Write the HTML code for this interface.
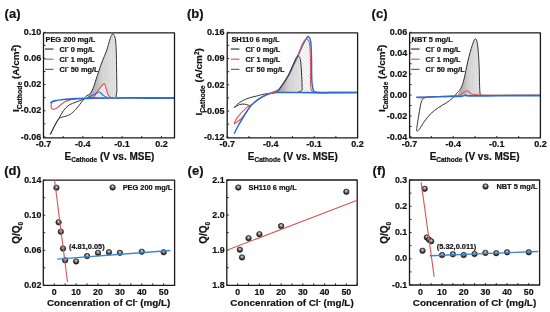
<!DOCTYPE html><html><head><meta charset="utf-8"><style>html,body{margin:0;padding:0;background:#fff;width:550px;height:312px;overflow:hidden}svg{display:block}</style></head><body>
<svg width="550" height="312" viewBox="0 0 550 312" font-family='"Liberation Sans", sans-serif' fill="#111" stroke-linejoin="round" style="will-change:transform"><style>text{stroke:#111;stroke-width:0.2px}</style>
<defs>
<linearGradient id="gA" x1="0" x2="1" y1="0" y2="0"><stop offset="0" stop-color="#9a9a9a"/><stop offset="0.5" stop-color="#d6d6d6"/><stop offset="1" stop-color="#e6e6e6"/></linearGradient>
<pattern id="vl" width="2" height="4" patternUnits="userSpaceOnUse"><rect width="2" height="4" fill="none"/><line x1="0.5" y1="0" x2="0.5" y2="4" stroke="#aaa" stroke-width="0.35"/></pattern>
<pattern id="hatch" width="2.3" height="3" patternUnits="userSpaceOnUse" patternTransform="rotate(-40)"><line x1="0" y1="0" x2="0" y2="3" stroke="#8a8a8a" stroke-width="0.55"/></pattern>
<radialGradient id="ball" cx="0.5" cy="0.4" r="0.6" fx="0.5" fy="0.35"><stop offset="0" stop-color="#e8e8e8"/><stop offset="0.3" stop-color="#9a9a9a"/><stop offset="0.7" stop-color="#333"/><stop offset="1" stop-color="#1a1a1a"/></radialGradient>
</defs>
<text x="4.60" y="18.00" font-size="13" text-anchor="start" font-weight="bold" >(a)</text>
<text x="186.90" y="18.00" font-size="13" text-anchor="start" font-weight="bold" >(b)</text>
<text x="371.60" y="18.00" font-size="13" text-anchor="start" font-weight="bold" >(c)</text>
<text x="4.20" y="175.10" font-size="13" text-anchor="start" font-weight="bold" >(d)</text>
<text x="187.60" y="175.10" font-size="13" text-anchor="start" font-weight="bold" >(e)</text>
<text x="372.60" y="175.10" font-size="13" text-anchor="start" font-weight="bold" >(f)</text>
<path d="M87.10,97.60 C87.60,96.95 88.98,95.57 90.10,93.70 C91.22,91.83 92.78,88.83 93.80,86.40 C94.82,83.97 95.40,81.53 96.20,79.10 C97.00,76.67 97.63,74.65 98.60,71.80 C99.57,68.95 100.68,65.47 102.00,62.00 C103.32,58.53 105.17,54.83 106.50,51.00 C107.83,47.17 109.12,41.67 110.00,39.00 C110.88,36.33 111.30,35.83 111.80,35.00 C112.30,34.17 112.58,33.92 113.00,34.00 C113.42,34.08 113.88,34.50 114.30,35.50 C114.72,36.50 115.18,37.58 115.50,40.00 C115.82,42.42 116.02,45.00 116.20,50.00 C116.38,55.00 116.48,63.33 116.60,70.00 C116.72,76.67 116.82,85.40 116.90,90.00 C116.98,94.60 117.07,96.33 117.10,97.60 Z" fill="url(#gA)"/>
<path d="M87.10,97.60 C87.60,96.95 88.98,95.57 90.10,93.70 C91.22,91.83 92.78,88.83 93.80,86.40 C94.82,83.97 95.40,81.53 96.20,79.10 C97.00,76.67 97.63,74.65 98.60,71.80 C99.57,68.95 100.68,65.47 102.00,62.00 C103.32,58.53 105.17,54.83 106.50,51.00 C107.83,47.17 109.12,41.67 110.00,39.00 C110.88,36.33 111.30,35.83 111.80,35.00 C112.30,34.17 112.58,33.92 113.00,34.00 C113.42,34.08 113.88,34.50 114.30,35.50 C114.72,36.50 115.18,37.58 115.50,40.00 C115.82,42.42 116.02,45.00 116.20,50.00 C116.38,55.00 116.48,63.33 116.60,70.00 C116.72,76.67 116.82,85.40 116.90,90.00 C116.98,94.60 117.07,96.33 117.10,97.60 Z" fill="url(#vl)" opacity="0.3"/>
<path d="M174.50,97.80 C167.08,97.78 139.57,97.73 130.00,97.70 C120.43,97.67 119.28,98.88 117.10,97.60 C114.92,96.32 116.98,94.60 116.90,90.00 C116.82,85.40 116.72,76.67 116.60,70.00 C116.48,63.33 116.38,55.00 116.20,50.00 C116.02,45.00 115.82,42.42 115.50,40.00 C115.18,37.58 114.72,36.50 114.30,35.50 C113.88,34.50 113.42,34.08 113.00,34.00 C112.58,33.92 112.30,34.17 111.80,35.00 C111.30,35.83 110.88,36.33 110.00,39.00 C109.12,41.67 107.83,47.17 106.50,51.00 C105.17,54.83 103.32,58.53 102.00,62.00 C100.68,65.47 99.57,68.95 98.60,71.80 C97.63,74.65 97.00,76.67 96.20,79.10 C95.40,81.53 94.82,83.97 93.80,86.40 C92.78,88.83 91.42,92.03 90.10,93.70 C88.78,95.37 87.33,94.98 85.90,96.40 C84.47,97.82 83.18,100.03 81.50,102.20 C79.82,104.37 77.72,107.35 75.80,109.40 C73.88,111.45 71.84,113.32 70.00,114.50 C68.16,115.68 66.58,115.83 64.75,116.50 C62.92,117.17 60.71,116.92 59.00,118.50 C57.29,120.08 55.95,123.33 54.50,126.00 C53.05,128.67 51.00,133.08 50.30,134.50" fill="none" stroke="#333333" stroke-width="1.0"/>
<path d="M50.30,134.50 C51.00,133.08 53.05,128.67 54.50,126.00 C55.95,123.33 57.53,121.03 59.00,118.50 C60.47,115.97 61.62,113.05 63.30,110.80 C64.98,108.55 66.98,106.45 69.10,105.00 C71.22,103.55 73.93,102.93 76.00,102.10 C78.07,101.27 79.62,100.67 81.50,100.00 C83.38,99.33 85.05,98.48 87.30,98.10 C89.55,97.72 93.72,97.77 95.00,97.70" fill="none" stroke="#333333" stroke-width="1.0"/>
<path d="M76.00,99.00 C75.00,99.13 71.88,99.33 70.00,99.80 C68.12,100.27 66.58,100.70 64.75,101.80 C62.92,102.90 60.81,105.15 59.00,106.40 C57.19,107.65 55.10,108.93 53.90,109.30 C52.70,109.67 52.28,109.20 51.80,108.60 C51.32,108.00 51.00,106.67 51.00,105.70 C51.00,104.73 51.67,103.28 51.80,102.80" fill="none" stroke="#dc5a5e" stroke-width="1.2"/>
<path d="M94.00,97.60 C94.47,96.77 95.65,94.38 96.80,92.60 C97.95,90.82 99.78,88.33 100.90,86.90 C102.02,85.47 102.90,84.52 103.50,84.00 C104.10,83.48 104.08,83.13 104.50,83.80 C104.92,84.47 105.40,86.20 106.00,88.00 C106.60,89.80 107.32,93.03 108.10,94.60 C108.88,96.17 109.88,96.90 110.70,97.40 C111.52,97.90 112.62,97.57 113.00,97.60 Z" fill="#f4f4f4"/>
<path d="M94.00,97.60 C94.47,96.77 95.65,94.38 96.80,92.60 C97.95,90.82 99.78,88.33 100.90,86.90 C102.02,85.47 102.90,84.52 103.50,84.00 C104.10,83.48 104.08,83.13 104.50,83.80 C104.92,84.47 105.40,86.20 106.00,88.00 C106.60,89.80 107.32,93.03 108.10,94.60 C108.88,96.17 109.88,96.90 110.70,97.40 C111.52,97.90 112.62,97.57 113.00,97.60 Z" fill="url(#hatch)"/>
<path d="M94.00,97.60 C94.47,96.77 95.65,94.38 96.80,92.60 C97.95,90.82 99.78,88.33 100.90,86.90 C102.02,85.47 102.90,84.52 103.50,84.00 C104.10,83.48 104.08,83.13 104.50,83.80 C104.92,84.47 105.40,86.20 106.00,88.00 C106.60,89.80 107.32,93.03 108.10,94.60 C108.88,96.17 109.88,96.90 110.70,97.40 C111.52,97.90 112.62,97.57 113.00,97.60" fill="none" stroke="#dc5a5e" stroke-width="1.1"/>
<path d="M87.00,97.70 C88.22,97.18 92.23,95.55 94.30,94.60 C96.37,93.65 97.95,91.92 99.40,92.00 C100.85,92.08 101.63,94.15 103.00,95.10 C104.37,96.05 106.83,97.27 107.60,97.70" fill="none" stroke="#2b6cd4" stroke-width="1.1"/>
<path d="M50.30,102.80 C51.03,102.48 52.53,101.45 54.70,100.90 C56.87,100.35 59.75,99.87 63.30,99.50 C66.85,99.13 70.72,98.93 76.00,98.70 C81.28,98.47 86.00,98.22 95.00,98.10 C104.00,97.98 116.75,98.00 130.00,98.00 C143.25,98.00 167.08,98.08 174.50,98.10" fill="none" stroke="#2b6cd4" stroke-width="1.7"/>
<rect x="43.50" y="32.80" width="131.00" height="105.10" fill="none" stroke="#1a1a1a" stroke-width="1.3"/>
<line x1="43.50" y1="137.90" x2="43.50" y2="135.90" stroke="#1a1a1a" stroke-width="0.9"/>
<line x1="82.80" y1="137.90" x2="82.80" y2="135.90" stroke="#1a1a1a" stroke-width="0.9"/>
<line x1="122.10" y1="137.90" x2="122.10" y2="135.90" stroke="#1a1a1a" stroke-width="0.9"/>
<line x1="161.40" y1="137.90" x2="161.40" y2="135.90" stroke="#1a1a1a" stroke-width="0.9"/>
<line x1="63.15" y1="137.90" x2="63.15" y2="135.90" stroke="#1a1a1a" stroke-width="0.9"/>
<line x1="102.45" y1="137.90" x2="102.45" y2="135.90" stroke="#1a1a1a" stroke-width="0.9"/>
<line x1="141.75" y1="137.90" x2="141.75" y2="135.90" stroke="#1a1a1a" stroke-width="0.9"/>
<line x1="43.50" y1="32.30" x2="45.50" y2="32.30" stroke="#1a1a1a" stroke-width="0.9"/>
<line x1="43.50" y1="58.45" x2="45.50" y2="58.45" stroke="#1a1a1a" stroke-width="0.9"/>
<line x1="43.50" y1="84.60" x2="45.50" y2="84.60" stroke="#1a1a1a" stroke-width="0.9"/>
<line x1="43.50" y1="110.75" x2="45.50" y2="110.75" stroke="#1a1a1a" stroke-width="0.9"/>
<line x1="43.50" y1="136.90" x2="45.50" y2="136.90" stroke="#1a1a1a" stroke-width="0.9"/>
<line x1="43.50" y1="45.38" x2="45.50" y2="45.38" stroke="#1a1a1a" stroke-width="0.9"/>
<line x1="43.50" y1="71.52" x2="45.50" y2="71.52" stroke="#1a1a1a" stroke-width="0.9"/>
<line x1="43.50" y1="97.67" x2="45.50" y2="97.67" stroke="#1a1a1a" stroke-width="0.9"/>
<line x1="43.50" y1="123.83" x2="45.50" y2="123.83" stroke="#1a1a1a" stroke-width="0.9"/>
<text x="41.30" y="35.04" font-size="9" text-anchor="end" font-weight="bold" >0.10</text>
<text x="41.30" y="61.19" font-size="9" text-anchor="end" font-weight="bold" >0.06</text>
<text x="41.30" y="87.34" font-size="9" text-anchor="end" font-weight="bold" >0.02</text>
<text x="41.30" y="113.49" font-size="9" text-anchor="end" font-weight="bold" >-0.02</text>
<text x="41.30" y="139.64" font-size="9" text-anchor="end" font-weight="bold" >-0.06</text>
<text x="43.50" y="147.04" font-size="9" text-anchor="middle" font-weight="bold" >-0.7</text>
<text x="82.80" y="147.04" font-size="9" text-anchor="middle" font-weight="bold" >-0.4</text>
<text x="122.10" y="147.04" font-size="9" text-anchor="middle" font-weight="bold" >-0.1</text>
<text x="161.40" y="147.04" font-size="9" text-anchor="middle" font-weight="bold" >0.2</text>
<text x="109.50" y="159.50" font-size="10" font-weight="bold" text-anchor="middle">E<tspan font-size="6.5" dy="2.6">Cathode</tspan><tspan dy="-2.6"> (V vs. MSE)</tspan></text>
<text transform="translate(19.30,78.30) rotate(-90)" font-size="9.9" font-weight="bold" text-anchor="middle">I<tspan font-size="6.9" dy="2.8">Cathode</tspan><tspan dy="-2.8"> (A/cm</tspan><tspan font-size="6.5" dy="-3.6">2</tspan><tspan dy="3.6">)</tspan></text>
<text x="45.50" y="41.60" font-size="7.4" text-anchor="start" font-weight="bold" >PEG 200 mg/L</text>
<line x1="45.00" y1="49.05" x2="53.50" y2="49.05" stroke="#333333" stroke-width="1.2"/>
<text x="59.50" y="51.75" font-size="7.4" font-weight="bold">Cl<tspan font-size="5" dy="-2.6">-</tspan><tspan dy="2.6"> 0 mg/L</tspan></text>
<line x1="45.00" y1="59.20" x2="53.50" y2="59.20" stroke="#dc5a5e" stroke-width="1.2"/>
<text x="59.50" y="61.90" font-size="7.4" font-weight="bold">Cl<tspan font-size="5" dy="-2.6">-</tspan><tspan dy="2.6"> 1 mg/L</tspan></text>
<line x1="45.00" y1="69.35" x2="53.50" y2="69.35" stroke="#2b6cd4" stroke-width="1.2"/>
<text x="59.50" y="72.05" font-size="7.4" font-weight="bold">Cl<tspan font-size="5" dy="-2.6">-</tspan><tspan dy="2.6"> 50 mg/L</tspan></text>
<path d="M276.40,92.60 C277.00,91.88 278.07,91.03 280.00,88.30 C281.93,85.57 285.75,80.25 288.00,76.20 C290.25,72.15 292.13,67.07 293.50,64.00 C294.87,60.93 295.48,59.13 296.20,57.80 C296.92,56.47 297.25,56.10 297.80,56.00 C298.35,55.90 299.03,56.37 299.50,57.20 C299.97,58.03 300.28,58.87 300.60,61.00 C300.92,63.13 301.18,66.83 301.40,70.00 C301.62,73.17 301.77,76.72 301.90,80.00 C302.03,83.28 302.08,87.60 302.20,89.70 C302.32,91.80 302.53,92.12 302.60,92.60 Z" fill="url(#gA)"/>
<path d="M276.40,92.60 C277.00,91.88 278.07,91.03 280.00,88.30 C281.93,85.57 285.75,80.25 288.00,76.20 C290.25,72.15 292.13,67.07 293.50,64.00 C294.87,60.93 295.48,59.13 296.20,57.80 C296.92,56.47 297.25,56.10 297.80,56.00 C298.35,55.90 299.03,56.37 299.50,57.20 C299.97,58.03 300.28,58.87 300.60,61.00 C300.92,63.13 301.18,66.83 301.40,70.00 C301.62,73.17 301.77,76.72 301.90,80.00 C302.03,83.28 302.08,87.60 302.20,89.70 C302.32,91.80 302.53,92.12 302.60,92.60 Z" fill="url(#vl)" opacity="0.3"/>
<path d="M297.80,56.00 C298.38,54.40 300.20,48.97 301.30,46.40 C302.40,43.83 303.55,41.80 304.40,40.60 C305.25,39.40 305.70,39.22 306.40,39.20 C307.10,39.18 308.05,39.53 308.60,40.50 C309.15,41.47 309.40,41.28 309.70,45.00 C310.00,48.72 310.27,55.40 310.40,62.80 C310.53,70.20 310.23,84.57 310.50,89.40 C310.77,94.23 310.97,91.27 312.00,91.80 C313.03,92.33 315.92,92.47 316.70,92.60 L302.6,92.6 L302.2,89.7 L301.9,80 L301.4,70 L300.6,61 L299.5,57.2 L297.8,56Z" fill="url(#hatch)"/>
<path d="M276.40,92.40 C275.00,92.70 270.40,93.43 268.00,94.20 C265.60,94.97 263.87,95.98 262.00,97.00 C260.13,98.02 258.22,99.22 256.80,100.30 C255.38,101.38 254.45,102.65 253.50,103.50 C252.55,104.35 251.98,105.13 251.10,105.40 C250.22,105.67 249.33,105.32 248.20,105.10 C247.07,104.88 245.75,104.18 244.30,104.10 C242.85,104.02 241.18,104.03 239.50,104.60 C237.82,105.17 234.57,107.58 234.25,107.50 C233.93,107.42 236.24,105.22 237.60,104.10 C238.96,102.98 240.47,101.83 242.40,100.80 C244.33,99.77 246.80,98.70 249.20,97.90 C251.60,97.10 254.17,96.65 256.80,96.00 C259.43,95.35 261.73,94.57 265.00,94.00 C268.27,93.43 274.50,92.83 276.40,92.60" fill="none" stroke="#333333" stroke-width="1.0"/>
<path d="M276.50,91.00 C275.25,91.43 271.42,92.58 269.00,93.60 C266.58,94.62 264.03,95.93 262.00,97.10 C259.97,98.27 258.70,99.12 256.80,100.60 C254.90,102.08 252.43,103.97 250.60,106.00 C248.77,108.03 247.40,110.67 245.80,112.80 C244.20,114.93 242.47,117.30 241.00,118.80 C239.53,120.30 238.12,120.97 237.00,121.80 C235.88,122.63 234.32,124.33 234.25,123.80 C234.18,123.27 235.41,120.47 236.60,118.60 C237.79,116.73 239.73,114.43 241.40,112.60 C243.07,110.77 245.07,108.80 246.60,107.60 C248.13,106.40 249.03,106.47 250.60,105.40 C252.17,104.33 255.10,101.90 256.00,101.20" fill="none" stroke="#dc5a5e" stroke-width="1.1"/>
<path d="M357.60,92.60 C353.00,92.60 336.60,92.62 330.00,92.60 C323.40,92.58 320.75,92.85 318.00,92.50 C315.25,92.15 314.53,92.58 313.50,90.50 C312.47,88.42 312.13,85.08 311.80,80.00 C311.47,74.92 311.67,66.33 311.50,60.00 C311.33,53.67 311.28,45.87 310.80,42.00 C310.32,38.13 309.33,37.40 308.60,36.80 C307.87,36.20 307.48,36.80 306.40,38.40 C305.32,40.00 303.60,43.30 302.10,46.40 C300.60,49.50 298.75,54.07 297.40,57.00 C296.05,59.93 295.57,60.80 294.00,64.00 C292.43,67.20 290.33,72.15 288.00,76.20 C285.67,80.25 281.92,85.80 280.00,88.30 C278.08,90.80 278.33,90.27 276.50,91.20 C274.67,92.13 271.42,92.90 269.00,93.90 C266.58,94.90 264.03,96.13 262.00,97.20 C259.97,98.27 258.47,99.07 256.80,100.30 C255.13,101.53 253.43,103.08 252.00,104.60 C250.57,106.12 249.63,107.32 248.20,109.40 C246.77,111.48 245.00,114.50 243.40,117.10 C241.80,119.70 240.13,122.25 238.60,125.00 C237.07,127.75 234.93,132.17 234.20,133.60" fill="none" stroke="#2b6cd4" stroke-width="1.5"/>
<path d="M318.00,92.60 C317.78,92.58 317.78,92.85 316.70,92.50 C315.62,92.15 312.53,92.58 311.50,90.50 C310.47,88.42 310.67,84.62 310.50,80.00 C310.33,75.38 310.63,68.63 310.50,62.80 C310.37,56.97 310.08,48.77 309.70,45.00 C309.32,41.23 308.75,41.17 308.20,40.20 C307.65,39.23 307.03,39.13 306.40,39.20 C305.77,39.27 305.25,39.40 304.40,40.60 C303.55,41.80 302.33,44.07 301.30,46.40 C300.27,48.73 299.50,51.67 298.20,54.60 C296.90,57.53 295.20,60.40 293.50,64.00 C291.80,67.60 290.25,72.15 288.00,76.20 C285.75,80.25 281.92,85.83 280.00,88.30 C278.08,90.77 278.33,90.12 276.50,91.00 C274.67,91.88 270.25,93.17 269.00,93.60" fill="none" stroke="#dc5a5e" stroke-width="1.1"/>
<path d="M357.60,92.60 C348.43,92.60 311.83,93.08 302.60,92.60 C293.37,92.12 302.32,91.80 302.20,89.70 C302.08,87.60 302.03,83.28 301.90,80.00 C301.77,76.72 301.62,73.17 301.40,70.00 C301.18,66.83 300.92,63.13 300.60,61.00 C300.28,58.87 299.97,58.03 299.50,57.20 C299.03,56.37 298.35,55.90 297.80,56.00 C297.25,56.10 296.92,56.47 296.20,57.80 C295.48,59.13 294.87,60.93 293.50,64.00 C292.13,67.07 290.25,72.15 288.00,76.20 C285.75,80.25 281.93,85.60 280.00,88.30 C278.07,91.00 277.00,91.72 276.40,92.40" fill="none" stroke="#333333" stroke-width="1.0"/>
<line x1="276" y1="92.6" x2="357.6" y2="92.6" stroke="#2b6cd4" stroke-width="1.5"/>
<rect x="227.20" y="32.80" width="130.40" height="105.10" fill="none" stroke="#1a1a1a" stroke-width="1.3"/>
<line x1="227.20" y1="137.90" x2="227.20" y2="135.90" stroke="#1a1a1a" stroke-width="0.9"/>
<line x1="270.67" y1="137.90" x2="270.67" y2="135.90" stroke="#1a1a1a" stroke-width="0.9"/>
<line x1="314.13" y1="137.90" x2="314.13" y2="135.90" stroke="#1a1a1a" stroke-width="0.9"/>
<line x1="357.60" y1="137.90" x2="357.60" y2="135.90" stroke="#1a1a1a" stroke-width="0.9"/>
<line x1="248.93" y1="137.90" x2="248.93" y2="135.90" stroke="#1a1a1a" stroke-width="0.9"/>
<line x1="292.40" y1="137.90" x2="292.40" y2="135.90" stroke="#1a1a1a" stroke-width="0.9"/>
<line x1="335.87" y1="137.90" x2="335.87" y2="135.90" stroke="#1a1a1a" stroke-width="0.9"/>
<line x1="227.20" y1="32.30" x2="229.20" y2="32.30" stroke="#1a1a1a" stroke-width="0.9"/>
<line x1="227.20" y1="58.55" x2="229.20" y2="58.55" stroke="#1a1a1a" stroke-width="0.9"/>
<line x1="227.20" y1="84.80" x2="229.20" y2="84.80" stroke="#1a1a1a" stroke-width="0.9"/>
<line x1="227.20" y1="111.05" x2="229.20" y2="111.05" stroke="#1a1a1a" stroke-width="0.9"/>
<line x1="227.20" y1="137.30" x2="229.20" y2="137.30" stroke="#1a1a1a" stroke-width="0.9"/>
<line x1="227.20" y1="45.42" x2="229.20" y2="45.42" stroke="#1a1a1a" stroke-width="0.9"/>
<line x1="227.20" y1="71.67" x2="229.20" y2="71.67" stroke="#1a1a1a" stroke-width="0.9"/>
<line x1="227.20" y1="97.92" x2="229.20" y2="97.92" stroke="#1a1a1a" stroke-width="0.9"/>
<line x1="227.20" y1="124.17" x2="229.20" y2="124.17" stroke="#1a1a1a" stroke-width="0.9"/>
<text x="224.60" y="35.04" font-size="9" text-anchor="end" font-weight="bold" >0.16</text>
<text x="224.60" y="61.29" font-size="9" text-anchor="end" font-weight="bold" >0.09</text>
<text x="224.60" y="87.54" font-size="9" text-anchor="end" font-weight="bold" >0.02</text>
<text x="224.60" y="113.79" font-size="9" text-anchor="end" font-weight="bold" >-0.05</text>
<text x="224.60" y="140.04" font-size="9" text-anchor="end" font-weight="bold" >-0.12</text>
<text x="227.20" y="147.04" font-size="9" text-anchor="middle" font-weight="bold" >-0.7</text>
<text x="270.67" y="147.04" font-size="9" text-anchor="middle" font-weight="bold" >-0.4</text>
<text x="314.13" y="147.04" font-size="9" text-anchor="middle" font-weight="bold" >-0.1</text>
<text x="357.60" y="147.04" font-size="9" text-anchor="middle" font-weight="bold" >0.2</text>
<text x="292.80" y="159.50" font-size="10" font-weight="bold" text-anchor="middle">E<tspan font-size="6.5" dy="2.6">Cathode</tspan><tspan dy="-2.6"> (V vs. MSE)</tspan></text>
<text transform="translate(202.10,81.90) rotate(-90)" font-size="9.9" font-weight="bold" text-anchor="middle">I<tspan font-size="6.9" dy="2.8">Cathode</tspan><tspan dy="-2.8"> (A/cm</tspan><tspan font-size="6.5" dy="-3.6">2</tspan><tspan dy="3.6">)</tspan></text>
<text x="231.40" y="41.60" font-size="7.4" text-anchor="start" font-weight="bold" >SH110 6 mg/L</text>
<line x1="230.90" y1="49.05" x2="239.40" y2="49.05" stroke="#333333" stroke-width="1.2"/>
<text x="245.40" y="51.75" font-size="7.4" font-weight="bold">Cl<tspan font-size="5" dy="-2.6">-</tspan><tspan dy="2.6"> 0 mg/L</tspan></text>
<line x1="230.90" y1="59.20" x2="239.40" y2="59.20" stroke="#dc5a5e" stroke-width="1.2"/>
<text x="245.40" y="61.90" font-size="7.4" font-weight="bold">Cl<tspan font-size="5" dy="-2.6">-</tspan><tspan dy="2.6"> 1 mg/L</tspan></text>
<line x1="230.90" y1="69.35" x2="239.40" y2="69.35" stroke="#2b6cd4" stroke-width="1.2"/>
<text x="245.40" y="72.05" font-size="7.4" font-weight="bold">Cl<tspan font-size="5" dy="-2.6">-</tspan><tspan dy="2.6"> 50 mg/L</tspan></text>
<path d="M457.00,95.50 C457.33,95.00 457.92,94.87 459.00,92.50 C460.08,90.13 462.02,86.53 463.50,81.30 C464.98,76.07 466.45,67.07 467.90,61.10 C469.35,55.13 470.97,49.22 472.20,45.50 C473.43,41.78 474.40,38.88 475.30,38.80 C476.20,38.72 476.97,40.53 477.60,45.00 C478.23,49.47 478.73,58.05 479.10,65.60 C479.47,73.15 479.42,85.32 479.80,90.30 C480.18,95.28 481.13,94.63 481.40,95.50 Z" fill="url(#gA)"/>
<path d="M457.00,95.50 C457.33,95.00 457.92,94.87 459.00,92.50 C460.08,90.13 462.02,86.53 463.50,81.30 C464.98,76.07 466.45,67.07 467.90,61.10 C469.35,55.13 470.97,49.22 472.20,45.50 C473.43,41.78 474.40,38.88 475.30,38.80 C476.20,38.72 476.97,40.53 477.60,45.00 C478.23,49.47 478.73,58.05 479.10,65.60 C479.47,73.15 479.42,85.32 479.80,90.30 C480.18,95.28 481.13,94.63 481.40,95.50 Z" fill="url(#vl)" opacity="0.3"/>
<path d="M540.40,95.20 C532.00,95.22 499.83,95.33 490.00,95.30 C480.17,95.27 483.10,95.83 481.40,95.00 C479.70,94.17 480.18,95.20 479.80,90.30 C479.42,85.40 479.47,73.15 479.10,65.60 C478.73,58.05 478.23,49.47 477.60,45.00 C476.97,40.53 476.20,38.72 475.30,38.80 C474.40,38.88 473.43,41.78 472.20,45.50 C470.97,49.22 469.35,55.13 467.90,61.10 C466.45,67.07 464.82,76.55 463.50,81.30 C462.18,86.05 461.05,87.70 460.00,89.60 C458.95,91.50 458.45,91.27 457.20,92.70 C455.95,94.13 454.33,96.50 452.50,98.20 C450.67,99.90 448.57,101.32 446.20,102.90 C443.83,104.48 440.93,105.85 438.30,107.70 C435.67,109.55 432.75,111.65 430.40,114.00 C428.05,116.35 426.03,119.27 424.20,121.80 C422.37,124.33 420.53,127.63 419.40,129.20 C418.27,130.77 417.87,131.07 417.40,131.20 C416.93,131.33 416.65,130.92 416.60,130.00 C416.55,129.08 416.77,127.98 417.10,125.70 C417.43,123.42 418.08,119.43 418.60,116.30 C419.12,113.17 419.67,109.52 420.20,106.90 C420.73,104.28 421.02,102.13 421.80,100.60 C422.58,99.07 423.20,98.33 424.90,97.70 C426.60,97.07 428.65,97.03 432.00,96.80 C435.35,96.57 442.83,96.38 445.00,96.30" fill="none" stroke="#333333" stroke-width="1.0"/>
<path d="M416.30,97.40 C416.92,97.50 418.72,97.93 420.00,98.00 C421.28,98.07 422.33,98.00 424.00,97.80 C425.67,97.60 426.50,97.07 430.00,96.80 C433.50,96.53 440.17,96.47 445.00,96.20 C449.83,95.93 456.00,95.73 459.00,95.20 C462.00,94.67 461.70,93.75 463.00,93.00 C464.30,92.25 465.63,90.78 466.80,90.70 C467.97,90.62 469.07,91.92 470.00,92.50 C470.93,93.08 469.07,93.75 472.40,94.20 C475.73,94.65 478.67,95.03 490.00,95.20 C501.33,95.37 532.00,95.20 540.40,95.20" fill="none" stroke="#dc5a5e" stroke-width="1.1"/>
<path d="M416.30,97.30 C418.58,97.25 424.38,97.13 430.00,97.00 C435.62,96.87 444.67,96.65 450.00,96.50 C455.33,96.35 459.38,96.35 462.00,96.10 C464.62,95.85 464.53,95.03 465.70,95.00 C466.87,94.97 463.28,95.78 469.00,95.90 C474.72,96.02 488.10,95.75 500.00,95.70 C511.90,95.65 533.67,95.62 540.40,95.60" fill="none" stroke="#2b6cd4" stroke-width="1.6"/>
<rect x="409.60" y="32.80" width="130.80" height="105.10" fill="none" stroke="#1a1a1a" stroke-width="1.3"/>
<line x1="409.60" y1="137.90" x2="409.60" y2="135.90" stroke="#1a1a1a" stroke-width="0.9"/>
<line x1="453.20" y1="137.90" x2="453.20" y2="135.90" stroke="#1a1a1a" stroke-width="0.9"/>
<line x1="496.80" y1="137.90" x2="496.80" y2="135.90" stroke="#1a1a1a" stroke-width="0.9"/>
<line x1="540.40" y1="137.90" x2="540.40" y2="135.90" stroke="#1a1a1a" stroke-width="0.9"/>
<line x1="431.40" y1="137.90" x2="431.40" y2="135.90" stroke="#1a1a1a" stroke-width="0.9"/>
<line x1="475.00" y1="137.90" x2="475.00" y2="135.90" stroke="#1a1a1a" stroke-width="0.9"/>
<line x1="518.60" y1="137.90" x2="518.60" y2="135.90" stroke="#1a1a1a" stroke-width="0.9"/>
<line x1="409.60" y1="32.30" x2="411.60" y2="32.30" stroke="#1a1a1a" stroke-width="0.9"/>
<line x1="409.60" y1="53.22" x2="411.60" y2="53.22" stroke="#1a1a1a" stroke-width="0.9"/>
<line x1="409.60" y1="74.14" x2="411.60" y2="74.14" stroke="#1a1a1a" stroke-width="0.9"/>
<line x1="409.60" y1="95.06" x2="411.60" y2="95.06" stroke="#1a1a1a" stroke-width="0.9"/>
<line x1="409.60" y1="115.98" x2="411.60" y2="115.98" stroke="#1a1a1a" stroke-width="0.9"/>
<line x1="409.60" y1="136.90" x2="411.60" y2="136.90" stroke="#1a1a1a" stroke-width="0.9"/>
<line x1="409.60" y1="42.76" x2="411.60" y2="42.76" stroke="#1a1a1a" stroke-width="0.9"/>
<line x1="409.60" y1="63.68" x2="411.60" y2="63.68" stroke="#1a1a1a" stroke-width="0.9"/>
<line x1="409.60" y1="84.60" x2="411.60" y2="84.60" stroke="#1a1a1a" stroke-width="0.9"/>
<line x1="409.60" y1="105.52" x2="411.60" y2="105.52" stroke="#1a1a1a" stroke-width="0.9"/>
<line x1="409.60" y1="126.44" x2="411.60" y2="126.44" stroke="#1a1a1a" stroke-width="0.9"/>
<text x="407.20" y="35.04" font-size="9" text-anchor="end" font-weight="bold" >0.06</text>
<text x="407.20" y="55.96" font-size="9" text-anchor="end" font-weight="bold" >0.04</text>
<text x="407.20" y="76.88" font-size="9" text-anchor="end" font-weight="bold" >0.02</text>
<text x="407.20" y="97.80" font-size="9" text-anchor="end" font-weight="bold" >0.00</text>
<text x="407.20" y="118.72" font-size="9" text-anchor="end" font-weight="bold" >-0.02</text>
<text x="407.20" y="139.64" font-size="9" text-anchor="end" font-weight="bold" >-0.04</text>
<text x="409.60" y="147.04" font-size="9" text-anchor="middle" font-weight="bold" >-0.7</text>
<text x="453.20" y="147.04" font-size="9" text-anchor="middle" font-weight="bold" >-0.4</text>
<text x="496.80" y="147.04" font-size="9" text-anchor="middle" font-weight="bold" >-0.1</text>
<text x="540.40" y="147.04" font-size="9" text-anchor="middle" font-weight="bold" >0.2</text>
<text x="474.60" y="159.50" font-size="10" font-weight="bold" text-anchor="middle">E<tspan font-size="6.5" dy="2.6">Cathode</tspan><tspan dy="-2.6"> (V vs. MSE)</tspan></text>
<text transform="translate(385.40,78.30) rotate(-90)" font-size="9.9" font-weight="bold" text-anchor="middle">I<tspan font-size="6.9" dy="2.8">Cathode</tspan><tspan dy="-2.8"> (A/cm</tspan><tspan font-size="6.5" dy="-3.6">2</tspan><tspan dy="3.6">)</tspan></text>
<text x="411.60" y="41.60" font-size="7.4" text-anchor="start" font-weight="bold" >NBT 5 mg/L</text>
<line x1="411.10" y1="49.05" x2="419.60" y2="49.05" stroke="#333333" stroke-width="1.2"/>
<text x="425.60" y="51.75" font-size="7.4" font-weight="bold">Cl<tspan font-size="5" dy="-2.6">-</tspan><tspan dy="2.6"> 0 mg/L</tspan></text>
<line x1="411.10" y1="59.20" x2="419.60" y2="59.20" stroke="#dc5a5e" stroke-width="1.2"/>
<text x="425.60" y="61.90" font-size="7.4" font-weight="bold">Cl<tspan font-size="5" dy="-2.6">-</tspan><tspan dy="2.6"> 1 mg/L</tspan></text>
<line x1="411.10" y1="69.35" x2="419.60" y2="69.35" stroke="#2b6cd4" stroke-width="1.2"/>
<text x="425.60" y="72.05" font-size="7.4" font-weight="bold">Cl<tspan font-size="5" dy="-2.6">-</tspan><tspan dy="2.6"> 50 mg/L</tspan></text>
<rect x="43.30" y="180.20" width="131.30" height="105.10" fill="none" stroke="#1a1a1a" stroke-width="1.3"/>
<line x1="54.24" y1="285.30" x2="54.24" y2="283.30" stroke="#1a1a1a" stroke-width="0.9"/>
<line x1="76.12" y1="285.30" x2="76.12" y2="283.30" stroke="#1a1a1a" stroke-width="0.9"/>
<line x1="98.01" y1="285.30" x2="98.01" y2="283.30" stroke="#1a1a1a" stroke-width="0.9"/>
<line x1="119.89" y1="285.30" x2="119.89" y2="283.30" stroke="#1a1a1a" stroke-width="0.9"/>
<line x1="141.78" y1="285.30" x2="141.78" y2="283.30" stroke="#1a1a1a" stroke-width="0.9"/>
<line x1="163.66" y1="285.30" x2="163.66" y2="283.30" stroke="#1a1a1a" stroke-width="0.9"/>
<line x1="65.18" y1="285.30" x2="65.18" y2="283.30" stroke="#1a1a1a" stroke-width="0.9"/>
<line x1="87.07" y1="285.30" x2="87.07" y2="283.30" stroke="#1a1a1a" stroke-width="0.9"/>
<line x1="108.95" y1="285.30" x2="108.95" y2="283.30" stroke="#1a1a1a" stroke-width="0.9"/>
<line x1="130.83" y1="285.30" x2="130.83" y2="283.30" stroke="#1a1a1a" stroke-width="0.9"/>
<line x1="152.72" y1="285.30" x2="152.72" y2="283.30" stroke="#1a1a1a" stroke-width="0.9"/>
<line x1="174.60" y1="285.30" x2="174.60" y2="283.30" stroke="#1a1a1a" stroke-width="0.9"/>
<line x1="43.30" y1="180.20" x2="45.30" y2="180.20" stroke="#1a1a1a" stroke-width="0.9"/>
<line x1="43.30" y1="215.23" x2="45.30" y2="215.23" stroke="#1a1a1a" stroke-width="0.9"/>
<line x1="43.30" y1="250.27" x2="45.30" y2="250.27" stroke="#1a1a1a" stroke-width="0.9"/>
<line x1="43.30" y1="285.30" x2="45.30" y2="285.30" stroke="#1a1a1a" stroke-width="0.9"/>
<line x1="43.30" y1="197.72" x2="45.30" y2="197.72" stroke="#1a1a1a" stroke-width="0.9"/>
<line x1="43.30" y1="232.75" x2="45.30" y2="232.75" stroke="#1a1a1a" stroke-width="0.9"/>
<line x1="43.30" y1="267.78" x2="45.30" y2="267.78" stroke="#1a1a1a" stroke-width="0.9"/>
<circle cx="56.43" cy="187.70" r="2.75" fill="url(#ball)" stroke="#1a1a1a" stroke-width="0.6"/>
<circle cx="58.62" cy="222.30" r="2.75" fill="url(#ball)" stroke="#1a1a1a" stroke-width="0.6"/>
<circle cx="60.81" cy="231.70" r="2.75" fill="url(#ball)" stroke="#1a1a1a" stroke-width="0.6"/>
<circle cx="62.99" cy="248.50" r="2.75" fill="url(#ball)" stroke="#1a1a1a" stroke-width="0.6"/>
<circle cx="65.18" cy="260.30" r="2.75" fill="url(#ball)" stroke="#1a1a1a" stroke-width="0.6"/>
<circle cx="76.12" cy="261.40" r="2.75" fill="url(#ball)" stroke="#1a1a1a" stroke-width="0.6"/>
<circle cx="87.07" cy="256.10" r="2.75" fill="url(#ball)" stroke="#1a1a1a" stroke-width="0.6"/>
<circle cx="98.01" cy="252.90" r="2.75" fill="url(#ball)" stroke="#1a1a1a" stroke-width="0.6"/>
<circle cx="108.95" cy="252.20" r="2.75" fill="url(#ball)" stroke="#1a1a1a" stroke-width="0.6"/>
<circle cx="119.89" cy="252.80" r="2.75" fill="url(#ball)" stroke="#1a1a1a" stroke-width="0.6"/>
<circle cx="141.78" cy="251.70" r="2.75" fill="url(#ball)" stroke="#1a1a1a" stroke-width="0.6"/>
<circle cx="163.66" cy="252.20" r="2.75" fill="url(#ball)" stroke="#1a1a1a" stroke-width="0.6"/>
<line x1="54.6" y1="180.2" x2="67.5" y2="282" stroke="#d65454" stroke-width="1.1"/>
<line x1="57.2" y1="259.1" x2="170.3" y2="250.5" stroke="#3f84cc" stroke-width="1.4"/>
<text x="86.80" y="248.80" font-size="7.4" text-anchor="middle" font-weight="bold" >(4.81,0.05)</text>
<circle cx="112.60" cy="187.40" r="2.75" fill="url(#ball)" stroke="#1a1a1a" stroke-width="0.6"/>
<text x="122.70" y="190.10" font-size="7.4" text-anchor="start" font-weight="bold" >PEG 200 mg/L</text>
<text x="41.30" y="182.87" font-size="8.8" text-anchor="end" font-weight="bold" >0.14</text>
<text x="41.30" y="217.90" font-size="8.8" text-anchor="end" font-weight="bold" >0.10</text>
<text x="41.30" y="252.93" font-size="8.8" text-anchor="end" font-weight="bold" >0.06</text>
<text x="41.30" y="287.97" font-size="8.8" text-anchor="end" font-weight="bold" >0.02</text>
<text x="54.24" y="295.17" font-size="8.8" text-anchor="middle" font-weight="bold" >0</text>
<text x="76.12" y="295.17" font-size="8.8" text-anchor="middle" font-weight="bold" >10</text>
<text x="98.01" y="295.17" font-size="8.8" text-anchor="middle" font-weight="bold" >20</text>
<text x="119.89" y="295.17" font-size="8.8" text-anchor="middle" font-weight="bold" >30</text>
<text x="141.78" y="295.17" font-size="8.8" text-anchor="middle" font-weight="bold" >40</text>
<text x="163.66" y="295.17" font-size="8.8" text-anchor="middle" font-weight="bold" >50</text>
<text x="108.70" y="306.20" font-size="9.9" font-weight="bold" text-anchor="middle">Concenration of Cl<tspan font-size="6.5" dy="-3.6">-</tspan><tspan dy="3.6"> (mg/L)</tspan></text>
<text transform="translate(19.60,232.80) rotate(-90)" font-size="10" font-weight="bold" text-anchor="middle">Q/Q<tspan font-size="6.5" dy="3.2">0</tspan></text>
<rect x="226.80" y="180.00" width="130.40" height="105.30" fill="none" stroke="#1a1a1a" stroke-width="1.3"/>
<line x1="237.67" y1="285.30" x2="237.67" y2="283.30" stroke="#1a1a1a" stroke-width="0.9"/>
<line x1="259.40" y1="285.30" x2="259.40" y2="283.30" stroke="#1a1a1a" stroke-width="0.9"/>
<line x1="281.13" y1="285.30" x2="281.13" y2="283.30" stroke="#1a1a1a" stroke-width="0.9"/>
<line x1="302.87" y1="285.30" x2="302.87" y2="283.30" stroke="#1a1a1a" stroke-width="0.9"/>
<line x1="324.60" y1="285.30" x2="324.60" y2="283.30" stroke="#1a1a1a" stroke-width="0.9"/>
<line x1="346.33" y1="285.30" x2="346.33" y2="283.30" stroke="#1a1a1a" stroke-width="0.9"/>
<line x1="248.53" y1="285.30" x2="248.53" y2="283.30" stroke="#1a1a1a" stroke-width="0.9"/>
<line x1="270.27" y1="285.30" x2="270.27" y2="283.30" stroke="#1a1a1a" stroke-width="0.9"/>
<line x1="292.00" y1="285.30" x2="292.00" y2="283.30" stroke="#1a1a1a" stroke-width="0.9"/>
<line x1="313.73" y1="285.30" x2="313.73" y2="283.30" stroke="#1a1a1a" stroke-width="0.9"/>
<line x1="335.47" y1="285.30" x2="335.47" y2="283.30" stroke="#1a1a1a" stroke-width="0.9"/>
<line x1="357.20" y1="285.30" x2="357.20" y2="283.30" stroke="#1a1a1a" stroke-width="0.9"/>
<line x1="226.80" y1="180.00" x2="228.80" y2="180.00" stroke="#1a1a1a" stroke-width="0.9"/>
<line x1="226.80" y1="215.10" x2="228.80" y2="215.10" stroke="#1a1a1a" stroke-width="0.9"/>
<line x1="226.80" y1="250.20" x2="228.80" y2="250.20" stroke="#1a1a1a" stroke-width="0.9"/>
<line x1="226.80" y1="285.30" x2="228.80" y2="285.30" stroke="#1a1a1a" stroke-width="0.9"/>
<line x1="226.80" y1="197.55" x2="228.80" y2="197.55" stroke="#1a1a1a" stroke-width="0.9"/>
<line x1="226.80" y1="232.65" x2="228.80" y2="232.65" stroke="#1a1a1a" stroke-width="0.9"/>
<line x1="226.80" y1="267.75" x2="228.80" y2="267.75" stroke="#1a1a1a" stroke-width="0.9"/>
<circle cx="239.84" cy="249.70" r="2.75" fill="url(#ball)" stroke="#1a1a1a" stroke-width="0.6"/>
<circle cx="242.01" cy="257.40" r="2.75" fill="url(#ball)" stroke="#1a1a1a" stroke-width="0.6"/>
<circle cx="248.53" cy="238.20" r="2.75" fill="url(#ball)" stroke="#1a1a1a" stroke-width="0.6"/>
<circle cx="259.40" cy="234.20" r="2.75" fill="url(#ball)" stroke="#1a1a1a" stroke-width="0.6"/>
<circle cx="281.13" cy="226.10" r="2.75" fill="url(#ball)" stroke="#1a1a1a" stroke-width="0.6"/>
<circle cx="346.33" cy="191.80" r="2.75" fill="url(#ball)" stroke="#1a1a1a" stroke-width="0.6"/>
<line x1="226.8" y1="250.2" x2="357.2" y2="200.3" stroke="#d65454" stroke-width="1.1"/>
<circle cx="238.30" cy="187.60" r="2.75" fill="url(#ball)" stroke="#1a1a1a" stroke-width="0.6"/>
<text x="248.60" y="190.30" font-size="7.4" text-anchor="start" font-weight="bold" >SH110 6 mg/L</text>
<text x="224.60" y="182.67" font-size="8.8" text-anchor="end" font-weight="bold" >2.1</text>
<text x="224.60" y="217.77" font-size="8.8" text-anchor="end" font-weight="bold" >2.0</text>
<text x="224.60" y="252.87" font-size="8.8" text-anchor="end" font-weight="bold" >1.9</text>
<text x="224.60" y="287.97" font-size="8.8" text-anchor="end" font-weight="bold" >1.8</text>
<text x="237.67" y="295.17" font-size="8.8" text-anchor="middle" font-weight="bold" >0</text>
<text x="259.40" y="295.17" font-size="8.8" text-anchor="middle" font-weight="bold" >10</text>
<text x="281.13" y="295.17" font-size="8.8" text-anchor="middle" font-weight="bold" >20</text>
<text x="302.87" y="295.17" font-size="8.8" text-anchor="middle" font-weight="bold" >30</text>
<text x="324.60" y="295.17" font-size="8.8" text-anchor="middle" font-weight="bold" >40</text>
<text x="346.33" y="295.17" font-size="8.8" text-anchor="middle" font-weight="bold" >50</text>
<text x="292.00" y="306.20" font-size="9.9" font-weight="bold" text-anchor="middle">Concenration of Cl<tspan font-size="6.5" dy="-3.6">-</tspan><tspan dy="3.6"> (mg/L)</tspan></text>
<text transform="translate(207.00,232.80) rotate(-90)" font-size="10" font-weight="bold" text-anchor="middle">Q/Q<tspan font-size="6.5" dy="3.2">0</tspan></text>
<rect x="409.50" y="180.00" width="130.10" height="105.00" fill="none" stroke="#1a1a1a" stroke-width="1.3"/>
<line x1="420.34" y1="285.00" x2="420.34" y2="283.00" stroke="#1a1a1a" stroke-width="0.9"/>
<line x1="442.02" y1="285.00" x2="442.02" y2="283.00" stroke="#1a1a1a" stroke-width="0.9"/>
<line x1="463.71" y1="285.00" x2="463.71" y2="283.00" stroke="#1a1a1a" stroke-width="0.9"/>
<line x1="485.39" y1="285.00" x2="485.39" y2="283.00" stroke="#1a1a1a" stroke-width="0.9"/>
<line x1="507.08" y1="285.00" x2="507.08" y2="283.00" stroke="#1a1a1a" stroke-width="0.9"/>
<line x1="528.76" y1="285.00" x2="528.76" y2="283.00" stroke="#1a1a1a" stroke-width="0.9"/>
<line x1="431.18" y1="285.00" x2="431.18" y2="283.00" stroke="#1a1a1a" stroke-width="0.9"/>
<line x1="452.87" y1="285.00" x2="452.87" y2="283.00" stroke="#1a1a1a" stroke-width="0.9"/>
<line x1="474.55" y1="285.00" x2="474.55" y2="283.00" stroke="#1a1a1a" stroke-width="0.9"/>
<line x1="496.23" y1="285.00" x2="496.23" y2="283.00" stroke="#1a1a1a" stroke-width="0.9"/>
<line x1="517.92" y1="285.00" x2="517.92" y2="283.00" stroke="#1a1a1a" stroke-width="0.9"/>
<line x1="539.60" y1="285.00" x2="539.60" y2="283.00" stroke="#1a1a1a" stroke-width="0.9"/>
<line x1="409.50" y1="180.00" x2="411.50" y2="180.00" stroke="#1a1a1a" stroke-width="0.9"/>
<line x1="409.50" y1="206.25" x2="411.50" y2="206.25" stroke="#1a1a1a" stroke-width="0.9"/>
<line x1="409.50" y1="232.50" x2="411.50" y2="232.50" stroke="#1a1a1a" stroke-width="0.9"/>
<line x1="409.50" y1="258.75" x2="411.50" y2="258.75" stroke="#1a1a1a" stroke-width="0.9"/>
<line x1="409.50" y1="285.00" x2="411.50" y2="285.00" stroke="#1a1a1a" stroke-width="0.9"/>
<line x1="409.50" y1="193.12" x2="411.50" y2="193.12" stroke="#1a1a1a" stroke-width="0.9"/>
<line x1="409.50" y1="219.38" x2="411.50" y2="219.38" stroke="#1a1a1a" stroke-width="0.9"/>
<line x1="409.50" y1="245.62" x2="411.50" y2="245.62" stroke="#1a1a1a" stroke-width="0.9"/>
<line x1="409.50" y1="271.88" x2="411.50" y2="271.88" stroke="#1a1a1a" stroke-width="0.9"/>
<circle cx="422.51" cy="250.80" r="2.75" fill="url(#ball)" stroke="#1a1a1a" stroke-width="0.6"/>
<circle cx="424.68" cy="188.80" r="2.75" fill="url(#ball)" stroke="#1a1a1a" stroke-width="0.6"/>
<circle cx="426.85" cy="237.50" r="2.75" fill="url(#ball)" stroke="#1a1a1a" stroke-width="0.6"/>
<circle cx="429.01" cy="239.80" r="2.75" fill="url(#ball)" stroke="#1a1a1a" stroke-width="0.6"/>
<circle cx="431.18" cy="241.30" r="2.75" fill="url(#ball)" stroke="#1a1a1a" stroke-width="0.6"/>
<circle cx="442.02" cy="255.10" r="2.75" fill="url(#ball)" stroke="#1a1a1a" stroke-width="0.6"/>
<circle cx="452.87" cy="254.30" r="2.75" fill="url(#ball)" stroke="#1a1a1a" stroke-width="0.6"/>
<circle cx="463.71" cy="255.10" r="2.75" fill="url(#ball)" stroke="#1a1a1a" stroke-width="0.6"/>
<circle cx="474.55" cy="254.00" r="2.75" fill="url(#ball)" stroke="#1a1a1a" stroke-width="0.6"/>
<circle cx="485.39" cy="252.90" r="2.75" fill="url(#ball)" stroke="#1a1a1a" stroke-width="0.6"/>
<circle cx="496.23" cy="253.20" r="2.75" fill="url(#ball)" stroke="#1a1a1a" stroke-width="0.6"/>
<circle cx="507.08" cy="252.30" r="2.75" fill="url(#ball)" stroke="#1a1a1a" stroke-width="0.6"/>
<circle cx="528.76" cy="252.30" r="2.75" fill="url(#ball)" stroke="#1a1a1a" stroke-width="0.6"/>
<line x1="421.1" y1="182.2" x2="434.2" y2="276.8" stroke="#d65454" stroke-width="1.1"/>
<line x1="429.7" y1="255.7" x2="538.3" y2="251.5" stroke="#3f84cc" stroke-width="1.4"/>
<text x="456.50" y="249.20" font-size="7.4" text-anchor="middle" font-weight="bold" >(5.32,0.011)</text>
<circle cx="485.50" cy="186.50" r="2.75" fill="url(#ball)" stroke="#1a1a1a" stroke-width="0.6"/>
<text x="496.40" y="189.20" font-size="7.4" text-anchor="start" font-weight="bold" >NBT 5 mg/L</text>
<text x="407.20" y="182.67" font-size="8.8" text-anchor="end" font-weight="bold" >0.3</text>
<text x="407.20" y="208.92" font-size="8.8" text-anchor="end" font-weight="bold" >0.2</text>
<text x="407.20" y="235.17" font-size="8.8" text-anchor="end" font-weight="bold" >0.1</text>
<text x="407.20" y="261.42" font-size="8.8" text-anchor="end" font-weight="bold" >0.0</text>
<text x="407.20" y="287.67" font-size="8.8" text-anchor="end" font-weight="bold" >-0.1</text>
<text x="420.34" y="295.17" font-size="8.8" text-anchor="middle" font-weight="bold" >0</text>
<text x="442.02" y="295.17" font-size="8.8" text-anchor="middle" font-weight="bold" >10</text>
<text x="463.71" y="295.17" font-size="8.8" text-anchor="middle" font-weight="bold" >20</text>
<text x="485.39" y="295.17" font-size="8.8" text-anchor="middle" font-weight="bold" >30</text>
<text x="507.08" y="295.17" font-size="8.8" text-anchor="middle" font-weight="bold" >40</text>
<text x="528.76" y="295.17" font-size="8.8" text-anchor="middle" font-weight="bold" >50</text>
<text x="474.50" y="306.20" font-size="9.9" font-weight="bold" text-anchor="middle">Concenration of Cl<tspan font-size="6.5" dy="-3.6">-</tspan><tspan dy="3.6"> (mg/L)</tspan></text>
<text transform="translate(387.50,232.80) rotate(-90)" font-size="10" font-weight="bold" text-anchor="middle">Q/Q<tspan font-size="6.5" dy="3.2">0</tspan></text>
</svg></body></html>
